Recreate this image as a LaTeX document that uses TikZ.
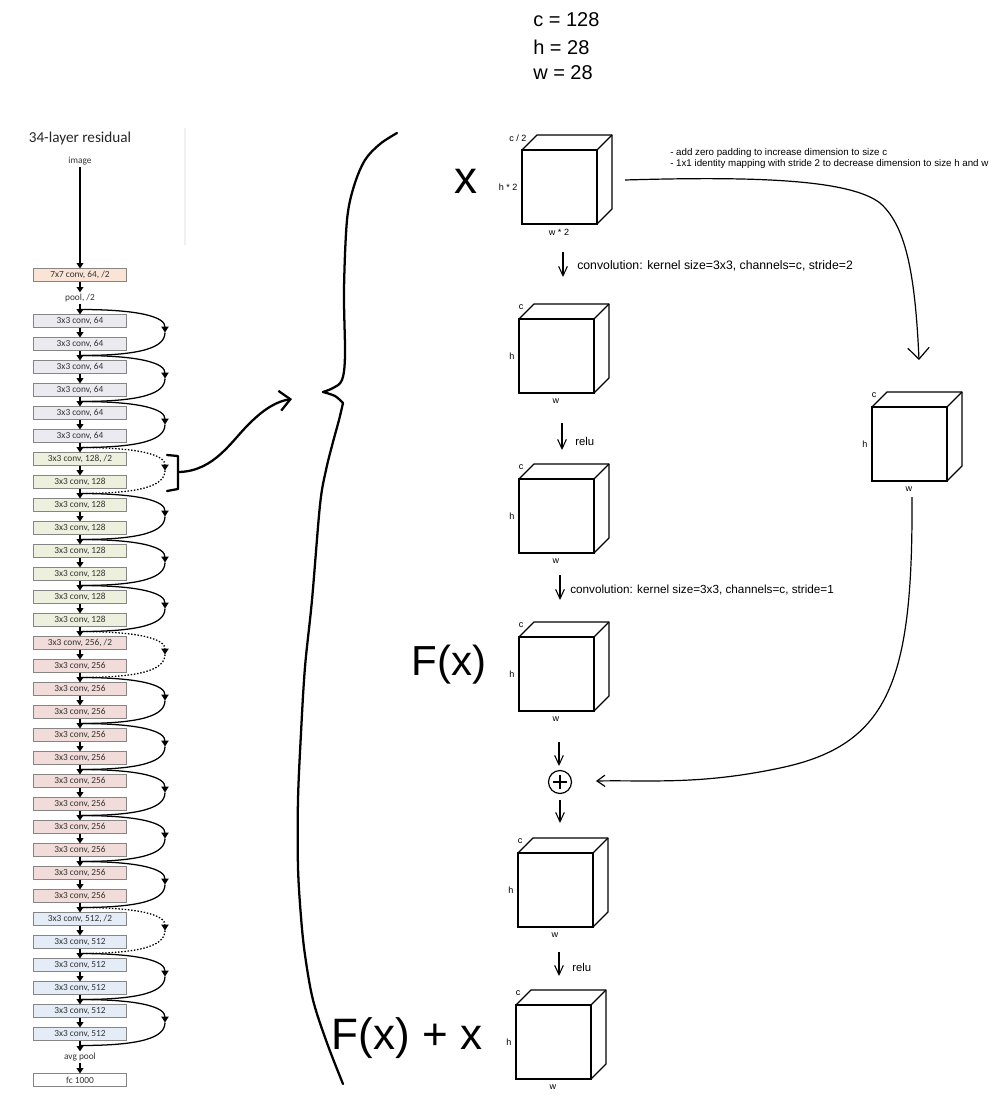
\documentclass[tikz,border=0pt]{standalone}
\usepackage{fontspec}
\setmainfont{Liberation Sans}
\newfontfamily\calfont{Carlito}
\usetikzlibrary{arrows.meta}
\definecolor{cOrange}{HTML}{FBE4D5}
\definecolor{cLav}{HTML}{ECEAF1}
\definecolor{cGreen}{HTML}{EDF0DC}
\definecolor{cPink}{HTML}{F2DCDA}
\definecolor{cBlue}{HTML}{E3ECF7}
\definecolor{cBorder}{HTML}{858585}
\definecolor{cText}{HTML}{333333}
\newcommand\rescube[6]{%
  \node[face, anchor=north west] (#1) at (#2,#3) {};
  \draw[cubeline] (#1.north west) -- ++(15,-15) -- ++(75,0) -- ++(0,74) -- (#1.south east);
  \draw[cubeline] (#1.north east) -- ++(15,-15);
  \node[dimlbl, anchor=east] (#1c) at ([shift={(6,-12)}]#1.north west) {#4};
  \node[dimlbl, anchor=east] (#1h) at ([shift={(-3,37)}]#1.north west) {#5};
  \node[dimlbl] (#1w) at ([shift={(37,82)}]#1.north west) {#6};
}
\begin{document}
\begin{tikzpicture}[x=0.75pt,y=-0.75pt,
  blk/.style={draw=cBorder, line width=1pt, minimum width=69.75pt, minimum height=9.75pt,
    inner sep=0pt, outer sep=0pt, font=\calfont\fontsize{7}{8}\selectfont, text=cText},
  lbltxt/.style={font=\calfont\fontsize{7}{8}\selectfont, text=cText, inner sep=1pt},
  rarr/.style={line width=0.95pt, -{Triangle[length=4pt,width=5pt]}},
  skipline/.style={line width=0.95pt},
  skiparr/.style={line width=0.95pt, -{Triangle[length=4.5pt,width=5.5pt]}},
  dots/.style={dash pattern=on 1.1pt off 1.3pt},
  face/.style={draw, fill=white, line width=1pt, minimum width=56.25pt, minimum height=55.5pt,
    inner sep=0pt, outer sep=0pt},
  cubeline/.style={line width=1pt, line join=round},
  dimlbl/.style={font=\fontsize{6.8}{8}\selectfont, inner sep=1pt},
  varr/.style={line width=0.8pt, -{Straight Barb[length=7pt,width=6.5pt]}},
  conn/.style={line width=0.9pt},
  handthick/.style={line width=1.7pt, line cap=round, line join=round},
  biglbl/.style={inner sep=0pt}
]
\useasboundingbox (0,0) rectangle (1000,1106);

% ---------------- left: ResNet-34 column ----------------
\draw[black!6, line width=0.8pt] (185,128) -- (185,245);
\node[font=\calfont\fontsize{11.4}{13}\selectfont, text=black!85] (title) at (80,138) {34-layer residual};
\node[lbltxt] (img) at (80,161) {image};
\node[blk, fill=cOrange] (b0) at (80,275) {7x7 conv, 64, /2};
\node[lbltxt] (b1) at (80,298) {pool, /2};
\foreach \i in {2,...,7} \node[blk, fill=cLav] (b\i) at (80,{275+23*\i}) {3x3 conv, 64};
\node[blk, fill=cGreen] (b8) at (80,{275+23*8}) {3x3 conv, 128, /2};
\foreach \i in {9,...,15} \node[blk, fill=cGreen] (b\i) at (80,{275+23*\i}) {3x3 conv, 128};
\node[blk, fill=cPink] (b16) at (80,{275+23*16}) {3x3 conv, 256, /2};
\foreach \i in {17,...,27} \node[blk, fill=cPink] (b\i) at (80,{275+23*\i}) {3x3 conv, 256};
\node[blk, fill=cBlue] (b28) at (80,{275+23*28}) {3x3 conv, 512, /2};
\foreach \i in {29,...,33} \node[blk, fill=cBlue] (b\i) at (80,{275+23*\i}) {3x3 conv, 512};
\node[lbltxt] (b34) at (80,1057) {avg pool};
\node[blk, fill=white] (b35) at (80,1080) {fc 1000};

\draw[rarr] (img) -- (b0);
\foreach \i in {0,...,34}{\pgfmathtruncatemacro\j{\i+1}\draw[rarr] (b\i) -- (b\j);}

\foreach \i in {2,4,6,10,12,14,18,20,22,24,26,30,32}{
  \coordinate (st\i) at (80,{275+23*\i-11.5});
  \coordinate (mt\i) at (165,{275+23*\i+11.5});
  \coordinate (en\i) at (80,{275+23*\i+34.5});
  \draw[skiparr] (st\i) .. controls +(62,0) and +(0,-15) .. (mt\i);
  \draw[skipline] (mt\i) .. controls +(0,15) and +(62,0) .. (en\i);
}
\foreach \i in {8,16,28}{
  \coordinate (st\i) at (80,{275+23*\i-11.5});
  \coordinate (mt\i) at (165,{275+23*\i+11.5});
  \coordinate (en\i) at (80,{275+23*\i+34.5});
  \draw[skiparr, dots] (st\i) .. controls +(62,0) and +(0,-15) .. (mt\i);
  \draw[skipline, dots] (mt\i) .. controls +(0,15) and +(62,0) .. (en\i);
}

% bracket and arrow to brace
\draw[handthick] (167,455) -- (178,456) -- (178,489) -- (167,491);
\coordinate (brk) at (179,472);
\coordinate (bracetip) at (292,399);
\draw[handthick, -{Straight Barb[length=8pt,width=15pt]}] (brk) .. controls (215,471) and (232,440) .. (250,423) .. controls (265,408) and (278,401) .. (bracetip);

% big brace
\draw[handthick] plot[smooth, tension=0.55] coordinates {(397,133) (380,144) (365,160) (354,186) (347,220) (344,290) (345,355) (342,380) (333,388) (323,392)};
\draw[handthick] plot[smooth, tension=0.55] coordinates {(323,392) (335,396) (343,403)};
\draw[handthick] plot[smooth, tension=0.55] coordinates {(343,403) (339,420) (333,442) (326,470) (320,505) (312,600) (305,667) (301,733) (298,800) (298,867) (301,917) (305,955) (313,1000) (327,1043) (343,1084)};

% ---------------- right: residual block ----------------
\node[font=\fontsize{15}{18}\selectfont, anchor=west, inner sep=0pt] (tc) at (533,20) {c = 128};
\node[font=\fontsize{15}{18}\selectfont, anchor=west, inner sep=0pt] (th) at (533,47) {h = 28};
\node[font=\fontsize{15}{18}\selectfont, anchor=west, inner sep=0pt] (tw) at (533,73) {w = 28};

\rescube{c1}{522}{150}{c / 2}{h * 2}{w * 2}
\rescube{c2}{519}{319}{c}{h}{w}
\rescube{c3}{519}{479}{c}{h}{w}
\rescube{c4}{519}{637}{c}{h}{w}
\rescube{c5}{518}{853}{c}{h}{w}
\rescube{c6}{516}{1005}{c}{h}{w}
\rescube{cr}{872}{407}{c}{h}{w}

\node[biglbl, font=\fontsize{34.5}{40}\selectfont] (xl) at (466,181) {x};
\node[biglbl, font=\fontsize{31.5}{38}\selectfont] (fxl) at (449,665) {F(x)};
\node[biglbl, font=\fontsize{33}{40}\selectfont] (fxxl) at (407,1038) {F(x) + x};

% vertical step arrows
\coordinate (a1s) at (563,252); \coordinate (a1e) at (563,277);
\draw[varr] (a1s) -- (a1e);
\node[anchor=west, inner sep=0pt, font=\fontsize{9.2}{11}\selectfont] (l1) at (577,266) {convolution: kernel size=3x3, channels=c, stride=2};
\coordinate (a2s) at (562,423); \coordinate (a2e) at (562,450);
\draw[varr] (a2s) -- (a2e);
\node[anchor=west, inner sep=0pt, font=\fontsize{8.5}{10}\selectfont] (l2) at (575,441) {relu};
\coordinate (a3s) at (560,575); \coordinate (a3e) at (560,600);
\draw[varr] (a3s) -- (a3e);
\node[anchor=west, inner sep=0pt, font=\fontsize{8.8}{11}\selectfont] (l3) at (570,590) {convolution: kernel size=3x3, channels=c, stride=1};

% addition
\node[draw, circle, line width=0.9pt, minimum size=17.25pt, inner sep=0pt] (plus) at (560,782) {};
\draw[line width=0.9pt] ([shift={(-7,0)}]plus.center) -- ([shift={(7,0)}]plus.center);
\draw[line width=0.9pt] ([shift={(0,-7)}]plus.center) -- ([shift={(0,7)}]plus.center);
\coordinate (a4s) at (559,742); \coordinate (a4e) at (559,766);
\draw[varr] (a4s) -- (a4e);
\coordinate (a5s) at (560,800); \coordinate (a5e) at (560,823);
\draw[varr] (a5s) -- (a5e);
\coordinate (a6s) at (559,952); \coordinate (a6e) at (559,976);
\draw[varr] (a6s) -- (a6e);
\node[anchor=west, inner sep=0pt, font=\fontsize{8.5}{10}\selectfont] (l4) at (572,967) {relu};

% shortcut
\node[anchor=west, inner sep=0pt, font=\fontsize{7.3}{9}\selectfont] (n1) at (670,153) {- add zero padding to increase dimension to size c};
\node[anchor=west, inner sep=0pt, font=\fontsize{7.3}{9}\selectfont] (n2) at (670,164) {- 1x1 identity mapping with stride 2 to decrease dimension to size h and w};
\coordinate (k1s) at (625,180);
\coordinate (k1e) at (919,360);
\draw[conn, -{Straight Barb[length=8.5pt,width=16pt]}] (k1s) .. controls (760,176) and (850,180) .. (880,203) .. controls (905,225) and (915,270) .. (k1e);
\coordinate (k2s) at (912,497);
\coordinate (pin) at (596,781);
\draw[conn, -{Straight Barb[length=6pt,width=8.5pt]}] (k2s) .. controls (913,680) and (890,745) .. (780,768) .. controls (700,785) and (650,780) .. (pin);
\end{tikzpicture}
\end{document}
